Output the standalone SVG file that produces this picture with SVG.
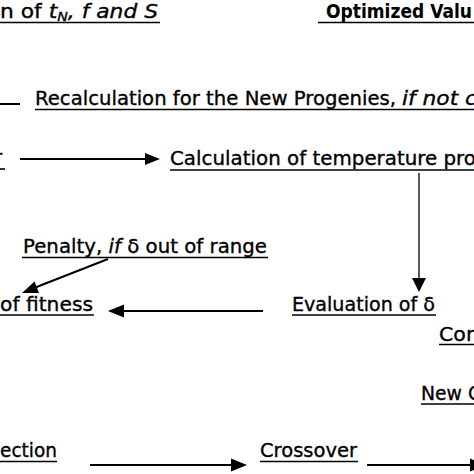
<svg xmlns="http://www.w3.org/2000/svg" width="474" height="474" viewBox="0 0 474 474">
<style>
text{font-family:"DejaVu Sans","Liberation Sans",sans-serif;font-size:20px;fill:#000;stroke:#000;stroke-width:0.35}
.it{font-style:italic}
.b{font-weight:bold;stroke-width:0}
.ul{stroke:#000;stroke-width:1.6;fill:none}
.ar{stroke:#000;stroke-width:2;fill:none}
.thin{stroke:#000;stroke-width:1.3;fill:none}
.hd{fill:#000;stroke:none}
</style>
<rect width="474" height="474" fill="#fff"/>
<g id="node-init">
<text x="0" y="18" textLength="158" lengthAdjust="spacingAndGlyphs">n of <tspan class="it">t</tspan><tspan class="it" font-size="13" dy="3">N</tspan><tspan class="it" dy="-3">, f and S</tspan></text>
<line class="ul" x1="0" y1="22.5" x2="160" y2="22.5"/>
</g>
<g id="node-optimized">
<text class="b" x="326" y="18" textLength="146" lengthAdjust="spacingAndGlyphs">Optimized Valu</text>
<line class="ul" x1="318" y1="22.5" x2="474" y2="22.5"/>
</g>
<g id="node-recalc">
<text x="35" y="105" textLength="361" lengthAdjust="spacingAndGlyphs">Recalculation for the New Progenies,</text>
<text class="it" x="402" y="105" textLength="75" lengthAdjust="spacingAndGlyphs">if not c</text>
<line class="ul" x1="35" y1="109.5" x2="474" y2="109.5"/>
</g>
<g id="node-left-r">
<text class="it" x="-7" y="164">r</text>
<line class="ul" x1="0" y1="169" x2="5" y2="169"/>
</g>
<g id="node-temp">
<text x="170" y="165" textLength="306" lengthAdjust="spacingAndGlyphs">Calculation of temperature pro</text>
<line class="ul" x1="170" y1="170" x2="474" y2="170"/>
</g>
<g id="node-penalty">
<text x="23" y="253" textLength="244" lengthAdjust="spacingAndGlyphs">Penalty, <tspan class="it">if</tspan> δ out of range</text>
<line class="ul" x1="22" y1="257.5" x2="268" y2="257.5"/>
</g>
<g id="node-fitness">
<text x="0" y="311" textLength="93" lengthAdjust="spacingAndGlyphs">of fitness</text>
<line class="ul" x1="0" y1="315" x2="94" y2="315"/>
</g>
<g id="node-eval">
<text x="292" y="311" textLength="143" lengthAdjust="spacingAndGlyphs">Evaluation of δ</text>
<line class="ul" x1="292" y1="315" x2="436" y2="315"/>
</g>
<g id="node-con">
<text x="439" y="341" textLength="40" lengthAdjust="spacingAndGlyphs">Con</text>
<line class="ul" x1="439" y1="344.5" x2="474" y2="344.5"/>
</g>
<g id="node-newc">
<text x="421" y="400" textLength="60" lengthAdjust="spacingAndGlyphs">New C</text>
<line class="ul" x1="421" y1="404" x2="474" y2="404"/>
</g>
<g id="node-selection">
<text x="0" y="457" textLength="57" lengthAdjust="spacingAndGlyphs">ection</text>
<line class="ul" x1="0" y1="461.5" x2="57" y2="461.5"/>
</g>
<g id="node-crossover">
<text x="260" y="457" textLength="97" lengthAdjust="spacingAndGlyphs">Crossover</text>
<line class="ul" x1="260" y1="461.5" x2="358" y2="461.5"/>
</g>
<g id="connectors">
<line class="ar" x1="0" y1="104" x2="20" y2="104"/>
<line class="ar" x1="20" y1="159" x2="148" y2="159"/>
<polygon class="hd" points="160,159 145,153 145,165"/>
<line class="thin" x1="419" y1="173" x2="419" y2="280"/>
<polygon class="hd" points="419,292 412,278 426,278"/>
<line class="ar" x1="108" y1="259" x2="34" y2="288"/>
<polygon class="hd" points="22,293 34.5,281.5 39,293"/>
<line class="ar" x1="263" y1="311" x2="120" y2="311"/>
<polygon class="hd" points="108,311 124,304.5 124,317.5"/>
<line class="ar" x1="90" y1="465" x2="235" y2="465"/>
<polygon class="hd" points="247,465 231,458.5 231,471.5"/>
<line class="ar" x1="367" y1="465" x2="474" y2="465"/>
<polygon class="hd" points="486,465 470,458.5 470,471.5"/>
</g>
</svg>
